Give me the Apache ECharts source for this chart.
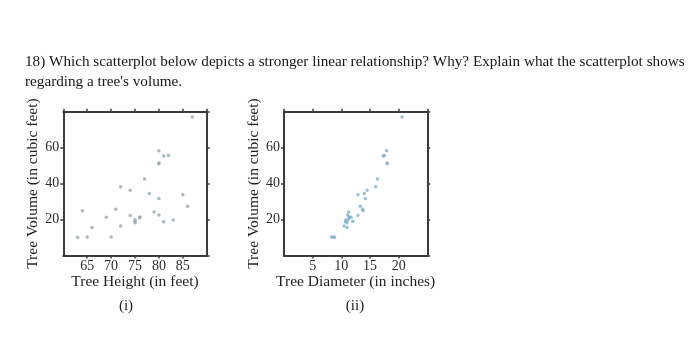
<!DOCTYPE html>
<html>
<head>
<meta charset="utf-8">
<script src="https://cdn.jsdelivr.net/npm/echarts@6/dist/echarts.min.js"></script>
<style>html,body{margin:0;padding:0;background:#fff}#c{width:700px;height:352px}</style>
</head>
<body>
<div id="c"></div>
<script>
// Data (31 trees)
var treeHeight = [70, 65, 63, 72, 81, 83, 66, 75, 80, 75, 79, 76, 76, 69, 75, 74, 85, 86, 71, 64, 78, 80, 74, 72, 77, 81, 82, 80, 80, 80, 87];
var treeDiameter = [8.3, 8.6, 8.8, 10.5, 10.7, 10.8, 11.0, 11.0, 11.1, 11.2, 11.3, 11.4, 11.4, 11.7, 12.0, 12.9, 12.9, 13.3, 13.7, 13.8, 14.0, 14.2, 14.5, 16.0, 16.3, 17.3, 17.5, 17.9, 18.0, 18.0, 20.6];
var treeVolume = [10.3, 10.3, 10.2, 16.4, 18.8, 19.7, 15.6, 18.2, 22.6, 19.9, 24.2, 21.0, 21.4, 21.3, 19.1, 22.2, 33.8, 27.4, 25.7, 24.9, 34.5, 31.7, 36.3, 38.3, 42.6, 55.4, 55.7, 58.3, 51.5, 51.0, 77.0];
var questionText = "18) Which scatterplot below depicts a stronger linear relationship? Why? Explain what the scatterplot shows\nregarding a tree's volume.";
var heightTicks = {min: 60, max: 90, interval: 5};
var diameterTicks = {min: 0, max: 25, interval: 5};
var volumeTicks = {min: 0, max: 80, interval: 20};

var serif = '"Liberation Serif", "Times New Roman", serif';
var frameColor = '#3c3c3c';

function xAx(grid, ticks, name, pos) {
  var bottom = pos === 'bottom';
  return {
    type: 'value', gridIndex: grid, position: pos,
    min: ticks.min, max: ticks.max, interval: ticks.interval,
    name: bottom ? name : '', nameLocation: 'middle', nameGap: 18,
    nameTextStyle: {fontFamily: serif, fontSize: 15.5, color: '#1e1e1e'},
    axisLine: {show: true, onZero: false, lineStyle: {color: frameColor, width: 2}},
    axisTick: {show: true, inside: false, length: 3, lineStyle: {color: frameColor, width: 1.5}},
    axisLabel: {show: bottom, showMinLabel: false, showMaxLabel: false, margin: 4,
      fontFamily: serif, fontSize: 14, color: '#2a2a2a'},
    splitLine: {show: false}
  };
}
function yAx(grid, pos) {
  var left = pos === 'left';
  return {
    type: 'value', gridIndex: grid, position: pos,
    min: volumeTicks.min, max: volumeTicks.max, interval: volumeTicks.interval,
    name: left ? 'Tree Volume (in cubic feet)' : '', nameLocation: 'middle', nameGap: 20,
    nameTextStyle: {fontFamily: serif, fontSize: 15.5, color: '#1e1e1e'},
    axisLine: {show: true, onZero: false, lineStyle: {color: frameColor, width: 2}},
    axisTick: {show: true, inside: false, length: 3, lineStyle: {color: frameColor, width: 1.5}},
    axisLabel: {show: left, showMinLabel: false, showMaxLabel: false, margin: 4,
      fontFamily: serif, fontSize: 14, color: '#2a2a2a'},
    splitLine: {show: false}
  };
}

var chart = echarts.init(document.getElementById('c'), null, {renderer: 'canvas'});
chart.setOption({
  backgroundColor: '#fff',
  animation: false,
  grid: [
    {left: 63.3, top: 111.7, width: 143.4, height: 143.8},
    {left: 284, top: 111.7, width: 143.3, height: 143.8}
  ],
  xAxis: [
    xAx(0, heightTicks, 'Tree Height (in feet)', 'bottom'),
    xAx(0, heightTicks, '', 'top'),
    xAx(1, diameterTicks, 'Tree Diameter (in inches)', 'bottom'),
    xAx(1, diameterTicks, '', 'top')
  ],
  yAxis: [
    yAx(0, 'left'), yAx(0, 'right'), yAx(1, 'left'), yAx(1, 'right')
  ],
  graphic: [
    {type: 'text', left: 25, top: 52, style: {text: questionText, fontFamily: serif, fontSize: 15.2, lineHeight: 20, fill: '#161616'}},
    {type: 'text', x: 126, y: 306, style: {text: '(i)', fontFamily: serif, fontSize: 15, fill: '#222', align: 'center', verticalAlign: 'middle', textAlign: 'center', textVerticalAlign: 'middle'}},
    {type: 'text', x: 355, y: 306, style: {text: '(ii)', fontFamily: serif, fontSize: 15, fill: '#222', align: 'center', verticalAlign: 'middle', textAlign: 'center', textVerticalAlign: 'middle'}}
  ],
  series: [
    {type: 'scatter', xAxisIndex: 0, yAxisIndex: 0, symbolSize: 3.5,
      itemStyle: {color: '#93a7b3'},
      data: treeHeight.map(function (h, i) { return [h, treeVolume[i]]; })},
    {type: 'scatter', xAxisIndex: 2, yAxisIndex: 2, symbolSize: 3.5,
      itemStyle: {color: '#7fb0cb'},
      data: treeDiameter.map(function (d, i) { return [d, treeVolume[i]]; })}
  ]
});
</script>
</body>
</html>
